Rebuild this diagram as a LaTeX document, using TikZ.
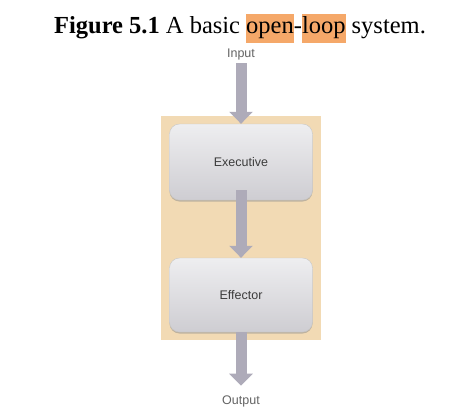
\documentclass[tikz,border=0pt]{standalone}
\usepackage{fontspec}
\setmainfont{Liberation Serif}
\setsansfont{Liberation Sans}
\usepackage{xcolor}
\definecolor{loop_tan}{RGB}{242, 218, 180}
\definecolor{loop_hl}{RGB}{245, 168, 105}
\definecolor{loop_arrow}{RGB}{174, 171, 185}
\definecolor{loop_boxtop}{RGB}{238, 238, 240}
\definecolor{loop_boxbot}{RGB}{206, 205, 210}
\definecolor{loop_text}{RGB}{60, 60, 60}
\usetikzlibrary{arrows.meta, positioning, fit, backgrounds, shadows}
\newcommand{\hlword}[1]{{\fboxsep=0pt\colorbox{loop_hl}{\rule[-0.4em]{0pt}{1.18em}#1}}}

\begin{document}
\begin{tikzpicture}[x=1pt, y=-1pt,
            lbl/.style={font=\sffamily\fontsize{12.5}{14}\selectfont, text=loop_text!80},
            blk/.style={rounded corners=10pt, draw=black!22, top color=loop_boxtop,
                        bottom color=loop_boxbot, minimum width=143pt, minimum height=76pt,
                        font=\sffamily\fontsize{12.5}{14}\selectfont, text=loop_text,
                        drop shadow={shadow xshift=0pt, shadow yshift=-1.5pt, fill=black!45}},
            arr/.style={line width=11pt, loop_arrow, -{Triangle[width=23pt, length=12pt]}}]
            \useasboundingbox (0,0) rectangle (474,408);
            % title
            \node[anchor=base, inner sep=0pt, font=\fontsize{24.5}{28}\selectfont] (title)
              at (240,33) {\textbf{Figure 5.1} A basic \hlword{open}-\hlword{loop} system.};
            % blocks
            \node[lbl, anchor=base] (in) at (241,57) {Input};
            \node[blk] (exe) at (241,162) {Executive};
            \node[blk, minimum height=74pt] (eff) at (241,295) {Effector};
            \node[lbl, anchor=base] (out) at (241,404) {Output};
            \begin{scope}[on background layer]
              \node[fill=loop_tan, fit=(exe)(eff), inner xsep=8.5pt, inner ysep=8pt] (panel) {};
            \end{scope}
            % arrows
            \draw[arr] (in.south) -- (exe.north);
            \draw[arr] ([yshift=10pt]exe.south) -- (eff.north);
            \draw[arr, shorten >=6pt] (eff.south) -- (out.north);
          \end{tikzpicture}
\end{document}
